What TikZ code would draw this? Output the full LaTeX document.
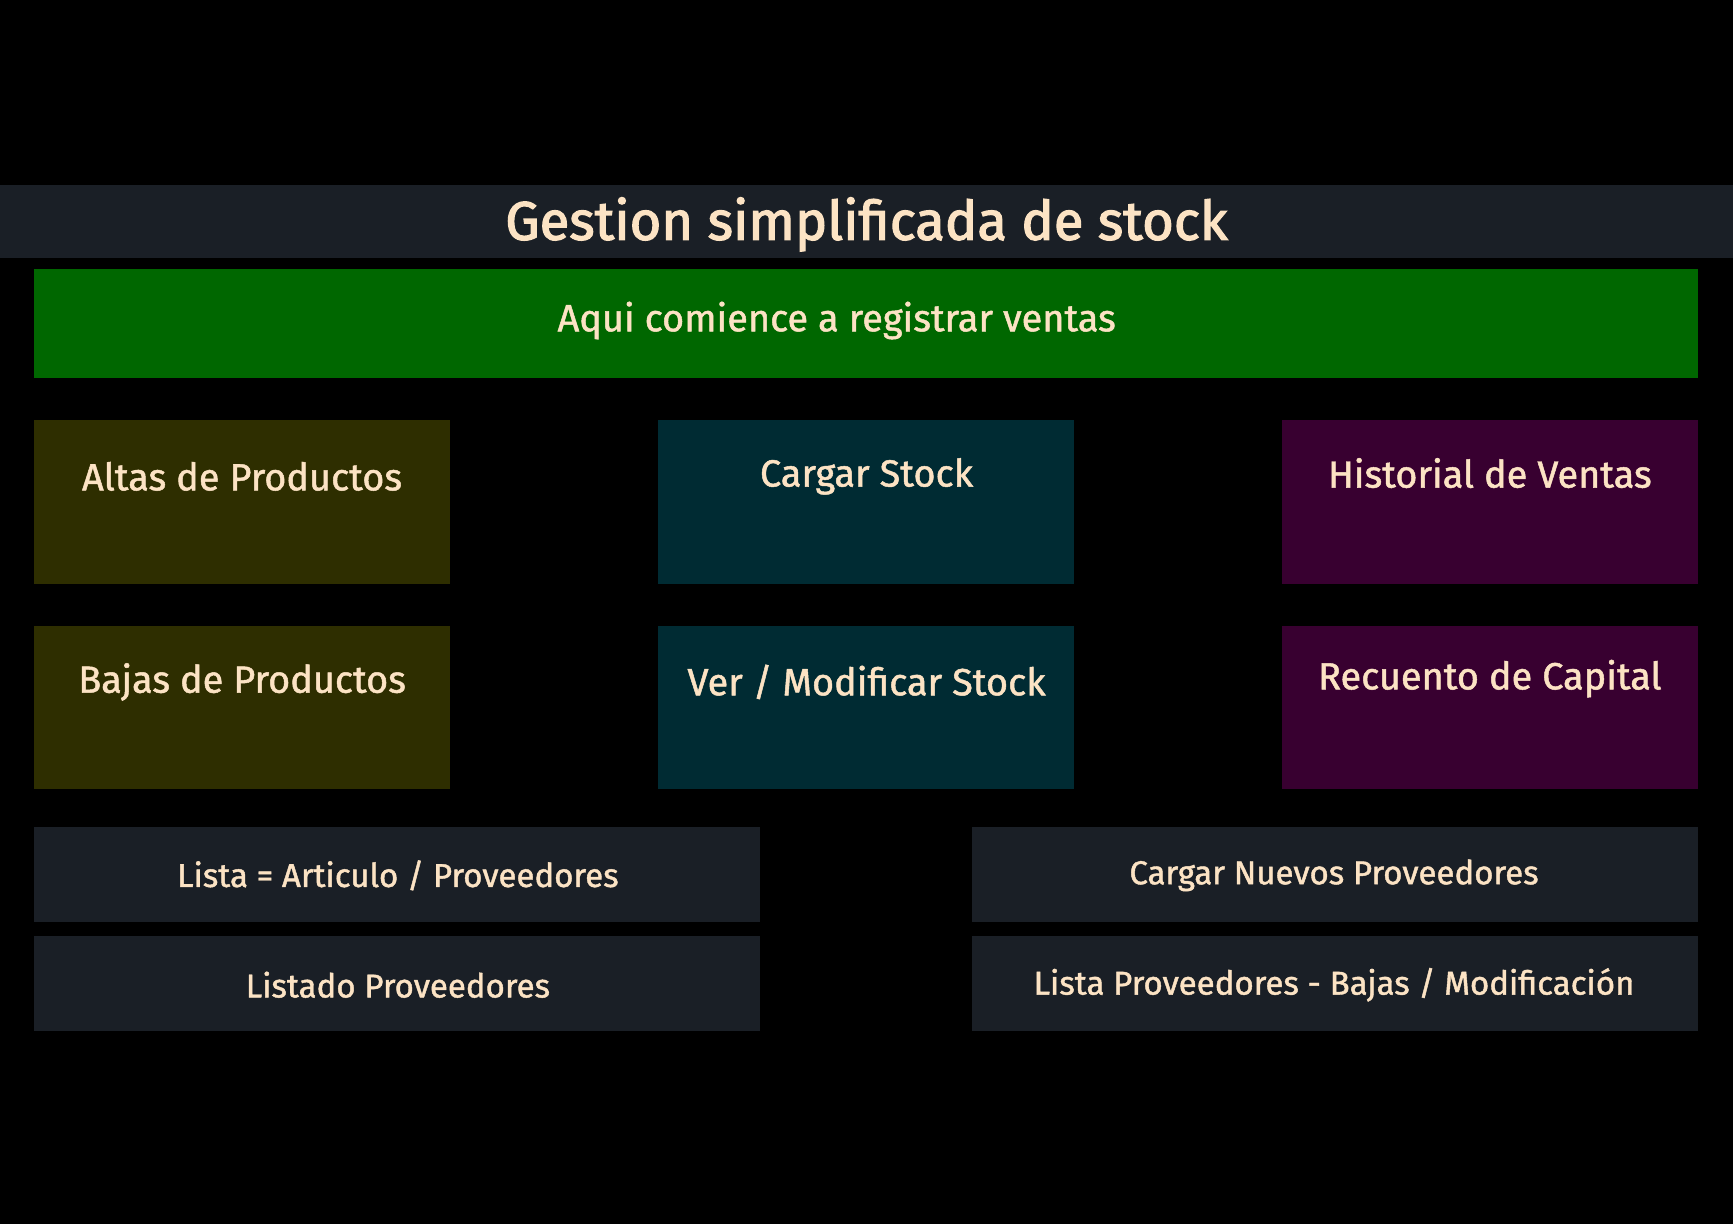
\documentclass[tikz,border=0pt]{standalone}
\usepackage{fontspec}
\setmainfont{Fira Sans}
\newfontfamily\semi[FakeBold=1.3]{Fira Sans}
\newfontfamily\semib[FakeBold=2.2]{Fira Sans}
\definecolor{txt}{HTML}{FCE3C4}
\definecolor{barc}{HTML}{1A1F26}
\definecolor{grn}{HTML}{006700}
\definecolor{oli}{HTML}{2E2E00}
\definecolor{tea}{HTML}{002B33}
\definecolor{plm}{HTML}{380030}
\begin{document}
\begin{tikzpicture}[x=0.02cm,y=-0.02cm,
  lbl/.style={text=txt,font=\semi\fontsize{19.5}{22}\selectfont,anchor=center,inner sep=0pt}]
\fill[black] (0,0) rectangle (1568,1107);
\useasboundingbox (0,0) rectangle (1568,1107);
\fill[barc] (0,167) rectangle (1568,233);
\node[lbl,font=\semib\fontsize{28}{30}\selectfont] (title) at (784,203) {Gestion simplificada de stock};
\fill[grn] (31,243) rectangle (1536,342);
\node[lbl] (green) at (757,290) {Aqui comience a registrar ventas};
\fill[oli] (31,380) rectangle (407,528);
\fill[tea] (595,380) rectangle (972,528);
\fill[plm] (1160,380) rectangle (1536,528);
\fill[oli] (31,566) rectangle (407,714);
\fill[tea] (595,566) rectangle (972,714);
\fill[plm] (1160,566) rectangle (1536,714);
\node[lbl] (a1) at (219,431) {Altas de Productos};
\node[lbl] (a2) at (784,431) {Cargar Stock};
\node[lbl] (a3) at (1348,428) {Historial de Ventas};
\node[lbl] (b1) at (219,617) {Bajas de Productos};
\node[lbl] (b2) at (784,617) {Ver / Modificar Stock};
\node[lbl] (b3) at (1348,614) {Recuento de Capital};
\fill[barc] (31,748) rectangle (688,834);
\fill[barc] (879,748) rectangle (1536,834);
\fill[barc] (31,847) rectangle (688,933);
\fill[barc] (879,847) rectangle (1536,933);
\tikzset{sm/.style={lbl,font=\semi\fontsize{17}{19}\selectfont}}
\node[sm] (c1) at (360,792) {Lista = Articulo / Proveedores};
\node[sm] (c2) at (1207,792) {Cargar Nuevos Proveedores};
\node[sm] (d1) at (360,891) {Listado Proveedores};
\node[sm] (d2) at (1207,891) {Lista Proveedores - Bajas / Modificación};
\end{tikzpicture}
\end{document}
